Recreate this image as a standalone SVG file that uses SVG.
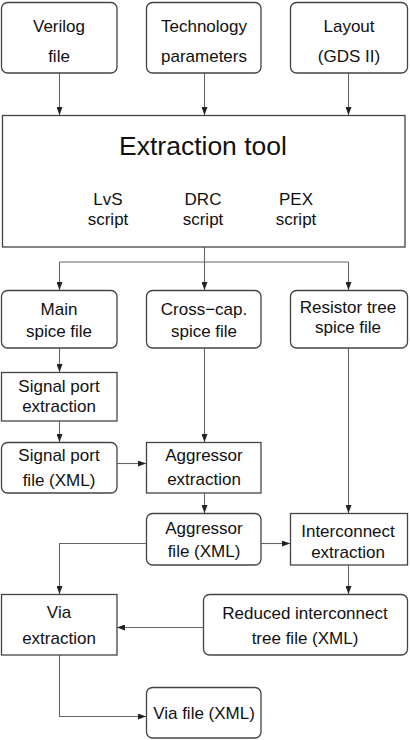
<svg xmlns="http://www.w3.org/2000/svg" width="410" height="740" viewBox="0 0 410 740">
<style>
.box{fill:#fff;stroke:#444;stroke-width:1.3}
.t{font-family:"Liberation Sans",Arial,Helvetica,sans-serif;font-size:17px;fill:#111;text-anchor:middle}
.big{font-size:26.5px}
.c{fill:none;stroke:#666;stroke-width:1.1}
</style>
<defs>
<marker id="ah" markerUnits="userSpaceOnUse" markerWidth="8" markerHeight="6" refX="8" refY="3" orient="auto">
<path d="M0,0 L8,3 L0,6 z" fill="#222"/>
</marker>
</defs>
<rect width="410" height="740" fill="#fff"/>
<g id="connectors">
<path class="c" d="M59.5,73 V115" marker-end="url(#ah)"/>
<path class="c" d="M204.5,73 V115" marker-end="url(#ah)"/>
<path class="c" d="M348.5,73 V115" marker-end="url(#ah)"/>
<path class="c" d="M204.5,247 V262 M59.5,262 H348.5"/>
<path class="c" d="M59.5,262 V290" marker-end="url(#ah)"/>
<path class="c" d="M204.5,262 V290" marker-end="url(#ah)"/>
<path class="c" d="M348.5,262 V290" marker-end="url(#ah)"/>
<path class="c" d="M59.5,348 V372" marker-end="url(#ah)"/>
<path class="c" d="M59.5,421 V442" marker-end="url(#ah)"/>
<path class="c" d="M204.5,348 V442" marker-end="url(#ah)"/>
<path class="c" d="M117,463.5 H146" marker-end="url(#ah)"/>
<path class="c" d="M204.5,493 V513" marker-end="url(#ah)"/>
<path class="c" d="M348.5,348 V513" marker-end="url(#ah)"/>
<path class="c" d="M261,543.5 H290" marker-end="url(#ah)"/>
<path class="c" d="M146,543.5 H59.5 V594" marker-end="url(#ah)"/>
<path class="c" d="M348.5,565 V594" marker-end="url(#ah)"/>
<path class="c" d="M203,627.5 H117" marker-end="url(#ah)"/>
<path class="c" d="M59.5,655 V716.5 H146" marker-end="url(#ah)"/>
</g>
<g id="verilog"><rect class="box" x="1.5" y="2.5" width="115.5" height="70.5" rx="6"/><text class="t" x="59" y="32">Verilog</text><text class="t" x="59" y="62">file</text></g>
<g id="technology"><rect class="box" x="146.5" y="2.5" width="114.5" height="70.5" rx="6"/><text class="t" x="204" y="32">Technology</text><text class="t" x="204" y="62">parameters</text></g>
<g id="layout"><rect class="box" x="290.5" y="2.5" width="117" height="70.5" rx="6"/><text class="t" x="349" y="32">Layout</text><text class="t" x="349" y="62">(GDS II)</text></g>
<g id="extraction"><rect class="box" x="2.5" y="115.5" width="402.5" height="131.5"/><text class="t big" x="203" y="155">Extraction tool</text>
<text class="t" x="108" y="205">LvS</text><text class="t" x="108" y="225">script</text>
<text class="t" x="203" y="205">DRC</text><text class="t" x="203" y="225">script</text>
<text class="t" x="296" y="205">PEX</text><text class="t" x="296" y="225">script</text></g>
<g id="main-spice"><rect class="box" x="1.5" y="290.5" width="115.5" height="57.5" rx="6"/><text class="t" x="59" y="315">Main</text><text class="t" x="59" y="337">spice file</text></g>
<g id="crosscap-spice"><rect class="box" x="146.5" y="290.5" width="114.5" height="57.5" rx="6"/><text class="t" x="204" y="315">Cross−cap.</text><text class="t" x="204" y="337">spice file</text></g>
<g id="resistor-spice"><rect class="box" x="290.5" y="290.5" width="117" height="57.5" rx="6"/><text class="t" x="348" y="313">Resistor tree</text><text class="t" x="348" y="333">spice file</text></g>
<g id="signal-port-extraction"><rect class="box" x="1.5" y="372.5" width="115.5" height="48.5"/><text class="t" x="59" y="392">Signal port</text><text class="t" x="59" y="412">extraction</text></g>
<g id="signal-port-file"><rect class="box" x="1.5" y="442.5" width="115.5" height="50.5" rx="6"/><text class="t" x="59" y="461">Signal port</text><text class="t" x="59" y="486">file (XML)</text></g>
<g id="aggressor-extraction"><rect class="box" x="146.5" y="442.5" width="114.5" height="50.5"/><text class="t" x="204" y="461">Aggressor</text><text class="t" x="204" y="485">extraction</text></g>
<g id="aggressor-file"><rect class="box" x="146.5" y="513.5" width="114.5" height="51.5" rx="6"/><text class="t" x="204" y="534">Aggressor</text><text class="t" x="204" y="557">file (XML)</text></g>
<g id="interconnect-extraction"><rect class="box" x="290.5" y="513.5" width="117" height="51.5"/><text class="t" x="348" y="537">Interconnect</text><text class="t" x="348" y="558">extraction</text></g>
<g id="via-extraction"><rect class="box" x="1.5" y="594.5" width="115.5" height="60.5"/><text class="t" x="59" y="618">Via</text><text class="t" x="59" y="644">extraction</text></g>
<g id="reduced-tree"><rect class="box" x="203.5" y="594.5" width="204" height="60.5" rx="6"/><text class="t" x="305" y="619">Reduced interconnect</text><text class="t" x="305" y="644">tree file (XML)</text></g>
<g id="via-file"><rect class="box" x="146.5" y="687.5" width="114.5" height="50.5" rx="6"/><text class="t" x="204" y="719">Via file (XML)</text></g>
</svg>
